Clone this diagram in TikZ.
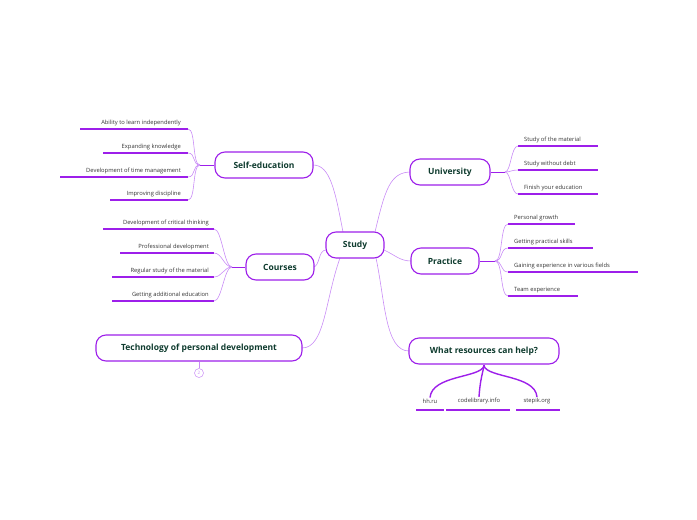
\documentclass[tikz,border=0pt]{standalone}
\usepackage{fontspec}
\setmainfont{Open Sans}
\usetikzlibrary{calc}
\definecolor{vio}{HTML}{9D1FEA}
\definecolor{lvio}{HTML}{C98CF6}
\definecolor{ntext}{HTML}{0E3B2E}
\definecolor{ltext}{HTML}{333333}
\begin{document}
\begin{tikzpicture}[x=1pt,y=-1pt,
  mainnode/.style={draw=vio,line width=1.1pt,rounded corners=10pt,fill=white,minimum height=26pt,font=\fontsize{8.5}{10}\selectfont\bfseries,text=ntext,inner xsep=4pt},
  leaf/.style={font=\fontsize{5.8}{7}\selectfont,text=ltext,inner sep=1pt},
  uline/.style={draw=vio,line width=1.5pt},
  conn/.style={draw=lvio,line width=0.6pt},
  stub/.style={draw=vio,line width=1pt}]
\useasboundingbox (0,0) rectangle (697,520);
% center connectors
\coordinate (st1) at (343,232); \coordinate (st2) at (375,232);
\coordinate (sb1) at (340,258); \coordinate (sb2) at (376,258);
\draw[conn] (st1) .. controls (335,190) and (330,165) .. (313,165);
\draw[conn] (st2) .. controls (385,190) and (390,172) .. (411,172);
\draw[conn] (384,250) .. controls (395,255) and (400,261) .. (411,261);
\draw[conn] (sb2) .. controls (385,300) and (385,351) .. (409,351);
\draw[conn] (sb1) .. controls (325,300) and (325,348) .. (302,348);
\draw[conn] (326,250) .. controls (318,250) and (320,267) .. (313,267);
% main nodes
\node[mainnode,minimum width=58pt] (study) at (355,245) {Study};
\node[mainnode,minimum width=80pt] (uni) at (450,172) {University};
\node[mainnode,minimum width=68pt] (prac) at (445,261) {Practice};
\node[mainnode,minimum width=150pt] (res) at (484,351) {What resources can help?};
\node[mainnode,minimum width=98pt] (self) at (264,165) {Self-education};
\node[mainnode,minimum width=68pt] (cour) at (280,267) {Courses};
\node[mainnode,minimum width=206pt] (tech) at (199,348) {Technology of personal development};
\node[draw=lvio,circle,line width=0.5pt,minimum size=9pt,inner sep=0pt,font=\fontsize{4.5}{5}\selectfont,text=lvio] (two) at (199,373) {2};
\draw[conn] (tech.south) -- (two.north);
% self-education
\coordinate (hs) at (200,165); \draw[stub] (self.west) -- (hs);
\node[leaf,anchor=south east] (s1) at (182,127) {Ability to learn independently};
\draw[uline] (80,129) coordinate (s1a) -- (188,129) coordinate (s1b);
\node[leaf,anchor=south east] (s2) at (182,151) {Expanding knowledge};
\draw[uline] (103,153) coordinate (s2a) -- (188,153) coordinate (s2b);
\node[leaf,anchor=south east] (s3) at (182,175) {Development of time management};
\draw[uline] (60,177) coordinate (s3a) -- (188,177) coordinate (s3b);
\node[leaf,anchor=south east] (s4) at (182,198) {Improving discipline};
\draw[uline] (110,200) coordinate (s4a) -- (188,200) coordinate (s4b);
% courses
\coordinate (hc) at (232,267); \draw[stub] (cour.west) -- (hc);
\node[leaf,anchor=south east] (c1) at (210,227) {Development of critical thinking};
\draw[uline] (103,229) coordinate (c1a) -- (214,229) coordinate (c1b);
\node[leaf,anchor=south east] (c2) at (210,251) {Professional development};
\draw[uline] (120,253) coordinate (c2a) -- (214,253) coordinate (c2b);
\node[leaf,anchor=south east] (c3) at (210,275) {Regular study of the material};
\draw[uline] (112,277) coordinate (c3a) -- (214,277) coordinate (c3b);
\node[leaf,anchor=south east] (c4) at (210,299) {Getting additional education};
\draw[uline] (112,301) coordinate (c4a) -- (214,301) coordinate (c4b);
% university
\coordinate (hu) at (505,172); \draw[stub] (uni.east) -- (hu);
\node[leaf,anchor=south west] (u1) at (523,144) {Study of the material};
\draw[uline] (518,146) coordinate (u1a) -- (598,146);
\node[leaf,anchor=south west] (u2) at (523,168) {Study without debt};
\draw[uline] (518,170) coordinate (u2a) -- (598,170);
\node[leaf,anchor=south west] (u3) at (523,192) {Finish your education};
\draw[uline] (518,194) coordinate (u3a) -- (598,194);
% practice
\coordinate (hp) at (495,261); \draw[stub] (prac.east) -- (hp);
\node[leaf,anchor=south west] (p1) at (513,222) {Personal growth};
\draw[uline] (508,224) coordinate (p1a) -- (575,224);
\node[leaf,anchor=south west] (p2) at (513,246) {Getting practical skills};
\draw[uline] (508,248) coordinate (p2a) -- (593,248);
\node[leaf,anchor=south west] (p3) at (513,270) {Gaining experience in various fields};
\draw[uline] (508,272) coordinate (p3a) -- (638,272);
\node[leaf,anchor=south west] (p4) at (513,294) {Team experience};
\draw[uline] (508,296) coordinate (p4a) -- (578,296);
% resources
\coordinate (hr) at (484,366);
\draw[stub,line width=1.4pt] (res.south) -- (hr);
\node[leaf] (r1) at (430,401) {hh.ru};
\draw[uline] (416,410) -- (444,410);
\node[leaf] (r2) at (479,401) {codelibrary.info};
\draw[uline] (446,410) -- (510,410);
\node[leaf] (r3) at (537,401) {stepik.org};
\draw[uline] (516,410) -- (560,410);
\draw[stub,line width=1.4pt] (hr) .. controls (480,378) and (432,375) .. (r1.north);
\draw[stub,line width=1.4pt] (hr) .. controls (482,375) and (480,382) .. (r2.north);
\draw[stub,line width=1.4pt] (hr) .. controls (488,378) and (535,375) .. (r3.north);
% connectors to leaves
\foreach \c in {s1b,s2b,s3b,s4b} \draw[conn] (hs) .. controls (192,165) and ($(\c)+(8,0)$) .. (\c);
\foreach \c in {c1b,c2b,c3b,c4b} \draw[conn] (hc) .. controls (224,267) and ($(\c)+(8,0)$) .. (\c);
\foreach \c in {u1a,u2a,u3a} \draw[conn] (hu) .. controls (511,172) and ($(\c)+(-7,0)$) .. (\c);
\foreach \c in {p1a,p2a,p3a,p4a} \draw[conn] (hp) .. controls (503,261) and ($(\c)+(-8,0)$) .. (\c);
\end{tikzpicture}
\end{document}
